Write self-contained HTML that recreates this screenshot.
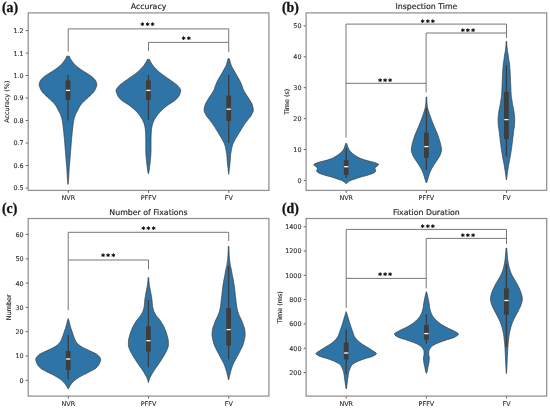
<!DOCTYPE html>
<html><head><meta charset="utf-8"><title>Violin plots</title>
<style>html,body{margin:0;padding:0;background:#fff}svg{display:block}text{font-family:"DejaVu Sans","Liberation Sans",sans-serif;fill:#2a2a2a}.lab{font-family:"Liberation Serif","DejaVu Serif",serif;font-weight:bold;font-size:13.8px;fill:#111;stroke:#111;stroke-width:0.3px}.tk{font-size:6.4px;stroke:#2a2a2a;stroke-width:0.1px}.tt{font-size:7.8px;stroke:#2a2a2a;stroke-width:0.18px}.st{font-size:7.4px;letter-spacing:1.4px;fill:#000;stroke:#000;stroke-width:0.32px}</style></head><body>
<svg width="550" height="409" viewBox="0 0 550 409">
<rect width="550" height="409" fill="#fff"/>
<g>
<path d="M69.3 56.2 L69.6 57.0 L69.9 57.7 L70.2 58.5 L70.7 59.2 L71.2 60.0 L71.7 60.7 L72.2 61.5 L72.8 62.2 L73.4 63.0 L74.0 63.7 L74.7 64.5 L75.5 65.2 L76.3 66.0 L77.2 66.7 L78.1 67.5 L79.1 68.2 L80.1 69.0 L81.2 69.7 L82.4 70.5 L83.6 71.2 L84.7 72.0 L85.9 72.7 L87.1 73.5 L88.4 74.2 L89.5 75.0 L90.6 75.7 L91.6 76.5 L92.5 77.2 L93.4 78.0 L94.2 78.7 L94.8 79.5 L95.3 80.2 L95.7 81.0 L96.1 81.7 L96.4 82.5 L96.6 83.2 L96.8 84.0 L96.8 84.7 L96.7 85.5 L96.5 86.2 L96.3 87.0 L96.0 87.7 L95.7 88.5 L95.4 89.2 L95.0 90.0 L94.6 90.7 L94.1 91.5 L93.5 92.2 L92.8 93.0 L92.1 93.7 L91.3 94.5 L90.6 95.2 L89.8 96.0 L89.0 96.7 L88.2 97.5 L87.4 98.2 L86.5 99.0 L85.7 99.7 L84.9 100.5 L84.2 101.2 L83.4 102.0 L82.6 102.7 L81.9 103.5 L81.2 104.2 L80.6 105.0 L80.1 105.7 L79.7 106.5 L79.2 107.2 L78.9 108.0 L78.5 108.7 L78.1 109.5 L77.7 110.2 L77.3 111.0 L76.9 111.7 L76.5 112.5 L76.1 113.2 L75.7 114.0 L75.4 114.7 L75.1 115.5 L74.9 116.2 L74.6 117.0 L74.4 117.7 L74.2 118.5 L74.0 119.2 L73.8 120.0 L73.7 120.7 L73.5 121.5 L73.4 122.2 L73.3 123.0 L73.2 123.7 L73.1 124.5 L73.0 125.2 L72.9 126.0 L72.9 126.7 L72.8 127.5 L72.7 128.2 L72.6 128.9 L72.5 129.7 L72.4 130.4 L72.4 131.2 L72.3 131.9 L72.2 132.7 L72.1 133.4 L72.1 134.2 L72.0 134.9 L71.9 135.7 L71.8 136.4 L71.8 137.2 L71.7 137.9 L71.6 138.7 L71.5 139.4 L71.5 140.2 L71.4 140.9 L71.4 141.7 L71.3 142.4 L71.2 143.2 L71.2 143.9 L71.1 144.7 L71.1 145.4 L71.0 146.2 L70.9 146.9 L70.9 147.7 L70.8 148.4 L70.8 149.2 L70.7 149.9 L70.6 150.7 L70.6 151.4 L70.5 152.2 L70.5 152.9 L70.4 153.7 L70.3 154.4 L70.3 155.2 L70.2 155.9 L70.2 156.7 L70.1 157.4 L70.0 158.2 L70.0 158.9 L69.9 159.7 L69.9 160.4 L69.8 161.2 L69.7 161.9 L69.7 162.7 L69.6 163.4 L69.6 164.2 L69.5 164.9 L69.4 165.7 L69.4 166.4 L69.3 167.2 L69.2 167.9 L69.2 168.7 L69.1 169.4 L69.1 170.2 L69.0 170.9 L69.0 171.7 L69.0 172.4 L68.9 173.2 L68.9 173.9 L68.8 174.7 L68.8 175.4 L68.8 176.2 L68.7 176.9 L68.7 177.7 L68.6 178.4 L68.6 179.2 L68.5 179.9 L68.4 180.7 L68.4 181.4 L68.3 182.2 L68.2 182.9 L68.1 183.7 L68.0 184.4 L68.0 184.4 L67.9 183.7 L67.8 182.9 L67.7 182.2 L67.6 181.4 L67.6 180.7 L67.5 179.9 L67.4 179.2 L67.4 178.4 L67.3 177.7 L67.3 176.9 L67.2 176.2 L67.2 175.4 L67.2 174.7 L67.1 173.9 L67.1 173.2 L67.0 172.4 L67.0 171.7 L67.0 170.9 L66.9 170.2 L66.9 169.4 L66.8 168.7 L66.8 167.9 L66.7 167.2 L66.6 166.4 L66.6 165.7 L66.5 164.9 L66.4 164.2 L66.4 163.4 L66.3 162.7 L66.3 161.9 L66.2 161.2 L66.1 160.4 L66.1 159.7 L66.0 158.9 L66.0 158.2 L65.9 157.4 L65.8 156.7 L65.8 155.9 L65.7 155.2 L65.7 154.4 L65.6 153.7 L65.5 152.9 L65.5 152.2 L65.4 151.4 L65.4 150.7 L65.3 149.9 L65.2 149.2 L65.2 148.4 L65.1 147.7 L65.1 146.9 L65.0 146.2 L64.9 145.4 L64.9 144.7 L64.8 143.9 L64.8 143.2 L64.7 142.4 L64.6 141.7 L64.6 140.9 L64.5 140.2 L64.5 139.4 L64.4 138.7 L64.3 137.9 L64.2 137.2 L64.2 136.4 L64.1 135.7 L64.0 134.9 L63.9 134.2 L63.9 133.4 L63.8 132.7 L63.7 131.9 L63.6 131.2 L63.6 130.4 L63.5 129.7 L63.4 128.9 L63.3 128.2 L63.2 127.5 L63.1 126.7 L63.1 126.0 L63.0 125.2 L62.9 124.5 L62.8 123.7 L62.7 123.0 L62.6 122.2 L62.5 121.5 L62.3 120.7 L62.2 120.0 L62.0 119.2 L61.8 118.5 L61.6 117.7 L61.4 117.0 L61.1 116.2 L60.9 115.5 L60.6 114.7 L60.3 114.0 L59.9 113.2 L59.5 112.5 L59.1 111.7 L58.7 111.0 L58.3 110.2 L57.9 109.5 L57.5 108.7 L57.1 108.0 L56.8 107.2 L56.3 106.5 L55.9 105.7 L55.4 105.0 L54.8 104.2 L54.1 103.5 L53.4 102.7 L52.6 102.0 L51.8 101.2 L51.1 100.5 L50.3 99.7 L49.5 99.0 L48.6 98.2 L47.8 97.5 L47.0 96.7 L46.2 96.0 L45.4 95.2 L44.7 94.5 L43.9 93.7 L43.2 93.0 L42.5 92.2 L41.9 91.5 L41.4 90.7 L41.0 90.0 L40.6 89.2 L40.3 88.5 L40.0 87.7 L39.7 87.0 L39.5 86.2 L39.3 85.5 L39.2 84.7 L39.2 84.0 L39.4 83.2 L39.6 82.5 L39.9 81.7 L40.3 81.0 L40.7 80.2 L41.2 79.5 L41.8 78.7 L42.6 78.0 L43.5 77.2 L44.4 76.5 L45.4 75.7 L46.5 75.0 L47.6 74.2 L48.9 73.5 L50.1 72.7 L51.3 72.0 L52.4 71.2 L53.6 70.5 L54.8 69.7 L55.9 69.0 L56.9 68.2 L57.9 67.5 L58.8 66.7 L59.7 66.0 L60.5 65.2 L61.3 64.5 L62.0 63.7 L62.6 63.0 L63.2 62.2 L63.8 61.5 L64.3 60.7 L64.8 60.0 L65.3 59.2 L65.8 58.5 L66.1 57.7 L66.4 57.0 L66.7 56.2Z" fill="#2f74a7" stroke="#3b3b3b" stroke-width="0.75" stroke-linejoin="round"/>
<line x1="68.0" y1="75.0" x2="68.0" y2="120.4" stroke="#3d3d3d" stroke-width="1.35"/>
<line x1="68.0" y1="80.4" x2="68.0" y2="100.0" stroke="#3d3d3d" stroke-width="4.8"/>
<line x1="65.9" y1="90.4" x2="70.1" y2="90.4" stroke="#fff" stroke-width="1.3"/>
<path d="M149.4 59.4 L149.7 60.1 L150.1 60.9 L150.5 61.6 L150.9 62.4 L151.4 63.1 L151.8 63.9 L152.4 64.7 L152.9 65.4 L153.5 66.2 L154.2 66.9 L154.9 67.7 L155.6 68.4 L156.3 69.2 L157.0 69.9 L157.8 70.7 L158.5 71.4 L159.4 72.2 L160.3 72.9 L161.3 73.7 L162.3 74.4 L163.4 75.2 L164.4 75.9 L165.5 76.7 L166.6 77.4 L167.6 78.2 L168.7 78.9 L169.7 79.7 L170.8 80.4 L171.9 81.2 L172.9 81.9 L173.9 82.7 L174.9 83.4 L175.9 84.2 L176.9 84.9 L177.7 85.7 L178.3 86.4 L179.0 87.2 L179.6 87.9 L180.1 88.7 L180.5 89.4 L180.7 90.2 L180.7 90.9 L180.6 91.7 L180.4 92.4 L180.1 93.2 L179.9 93.9 L179.5 94.7 L179.2 95.4 L178.8 96.2 L178.3 96.9 L177.7 97.7 L177.0 98.4 L176.3 99.2 L175.5 99.9 L174.6 100.7 L173.6 101.4 L172.4 102.2 L171.2 102.9 L169.9 103.7 L168.8 104.4 L167.7 105.2 L166.7 105.9 L165.7 106.7 L164.8 107.4 L163.9 108.2 L163.0 108.9 L162.2 109.7 L161.4 110.4 L160.7 111.2 L160.0 111.9 L159.3 112.7 L158.7 113.4 L158.0 114.2 L157.5 114.9 L156.9 115.7 L156.4 116.4 L155.9 117.2 L155.4 117.9 L154.9 118.7 L154.5 119.4 L154.1 120.2 L153.8 120.9 L153.5 121.7 L153.1 122.4 L152.9 123.2 L152.6 123.9 L152.4 124.7 L152.2 125.4 L152.0 126.2 L151.9 126.9 L151.7 127.7 L151.6 128.4 L151.5 129.2 L151.4 129.9 L151.4 130.7 L151.3 131.4 L151.3 132.2 L151.2 132.9 L151.2 133.7 L151.1 134.4 L151.1 135.2 L151.1 135.9 L151.1 136.7 L151.0 137.4 L151.0 138.2 L151.0 138.9 L151.0 139.7 L151.0 140.4 L151.0 141.2 L151.0 141.9 L151.0 142.7 L151.0 143.4 L151.0 144.2 L151.0 144.9 L151.0 145.7 L151.0 146.4 L151.0 147.2 L151.0 147.9 L151.0 148.7 L151.0 149.4 L151.0 150.2 L151.0 150.9 L151.0 151.7 L150.9 152.4 L150.9 153.2 L150.9 153.9 L150.8 154.7 L150.8 155.4 L150.7 156.2 L150.7 156.9 L150.6 157.7 L150.5 158.4 L150.5 159.2 L150.4 159.9 L150.3 160.7 L150.2 161.4 L150.2 162.2 L150.1 162.9 L150.0 163.7 L149.9 164.4 L149.8 165.2 L149.7 165.9 L149.6 166.7 L149.5 167.4 L149.4 168.2 L149.4 168.9 L149.3 169.7 L149.1 170.4 L149.0 171.2 L148.9 171.9 L148.7 172.7 L148.5 173.4 L148.4 174.0 L148.4 174.0 L148.3 173.4 L148.1 172.7 L147.9 171.9 L147.8 171.2 L147.7 170.4 L147.5 169.7 L147.4 168.9 L147.4 168.2 L147.3 167.4 L147.2 166.7 L147.1 165.9 L147.0 165.2 L146.9 164.4 L146.8 163.7 L146.7 162.9 L146.6 162.2 L146.6 161.4 L146.5 160.7 L146.4 159.9 L146.3 159.2 L146.3 158.4 L146.2 157.7 L146.1 156.9 L146.1 156.2 L146.0 155.4 L146.0 154.7 L145.9 153.9 L145.9 153.2 L145.9 152.4 L145.8 151.7 L145.8 150.9 L145.8 150.2 L145.8 149.4 L145.8 148.7 L145.8 147.9 L145.8 147.2 L145.8 146.4 L145.8 145.7 L145.8 144.9 L145.8 144.2 L145.8 143.4 L145.8 142.7 L145.8 141.9 L145.8 141.2 L145.8 140.4 L145.8 139.7 L145.8 138.9 L145.8 138.2 L145.8 137.4 L145.7 136.7 L145.7 135.9 L145.7 135.2 L145.7 134.4 L145.6 133.7 L145.6 132.9 L145.5 132.2 L145.5 131.4 L145.4 130.7 L145.4 129.9 L145.3 129.2 L145.2 128.4 L145.1 127.7 L144.9 126.9 L144.8 126.2 L144.6 125.4 L144.4 124.7 L144.2 123.9 L143.9 123.2 L143.7 122.4 L143.3 121.7 L143.0 120.9 L142.7 120.2 L142.3 119.4 L141.9 118.7 L141.4 117.9 L140.9 117.2 L140.4 116.4 L139.9 115.7 L139.3 114.9 L138.8 114.2 L138.1 113.4 L137.5 112.7 L136.8 111.9 L136.1 111.2 L135.4 110.4 L134.6 109.7 L133.8 108.9 L132.9 108.2 L132.0 107.4 L131.1 106.7 L130.1 105.9 L129.1 105.2 L128.0 104.4 L126.9 103.7 L125.6 102.9 L124.4 102.2 L123.2 101.4 L122.2 100.7 L121.3 99.9 L120.5 99.2 L119.8 98.4 L119.1 97.7 L118.5 96.9 L118.0 96.2 L117.6 95.4 L117.3 94.7 L116.9 93.9 L116.7 93.2 L116.4 92.4 L116.2 91.7 L116.1 90.9 L116.1 90.2 L116.3 89.4 L116.7 88.7 L117.2 87.9 L117.8 87.2 L118.5 86.4 L119.1 85.7 L119.9 84.9 L120.9 84.2 L121.9 83.4 L122.9 82.7 L123.9 81.9 L124.9 81.2 L126.0 80.4 L127.1 79.7 L128.1 78.9 L129.2 78.2 L130.2 77.4 L131.3 76.7 L132.4 75.9 L133.4 75.2 L134.5 74.4 L135.5 73.7 L136.5 72.9 L137.4 72.2 L138.3 71.4 L139.0 70.7 L139.8 69.9 L140.5 69.2 L141.2 68.4 L141.9 67.7 L142.6 66.9 L143.3 66.2 L143.9 65.4 L144.4 64.7 L145.0 63.9 L145.4 63.1 L145.9 62.4 L146.3 61.6 L146.7 60.9 L147.1 60.1 L147.4 59.4Z" fill="#2f74a7" stroke="#3b3b3b" stroke-width="0.75" stroke-linejoin="round"/>
<line x1="148.4" y1="75.0" x2="148.4" y2="120.0" stroke="#3d3d3d" stroke-width="1.35"/>
<line x1="148.4" y1="80.4" x2="148.4" y2="100.0" stroke="#3d3d3d" stroke-width="4.8"/>
<line x1="146.3" y1="90.4" x2="150.5" y2="90.4" stroke="#fff" stroke-width="1.3"/>
<path d="M229.2 58.6 L229.5 59.4 L229.7 60.1 L229.9 60.9 L230.1 61.6 L230.3 62.4 L230.5 63.1 L230.7 63.9 L231.0 64.6 L231.2 65.3 L231.5 66.1 L231.9 66.8 L232.3 67.6 L232.7 68.3 L233.2 69.1 L233.6 69.8 L234.0 70.6 L234.4 71.3 L234.9 72.1 L235.3 72.8 L235.7 73.6 L236.1 74.3 L236.6 75.1 L237.0 75.8 L237.4 76.6 L237.9 77.3 L238.3 78.1 L238.8 78.8 L239.2 79.6 L239.6 80.3 L240.0 81.1 L240.3 81.8 L240.7 82.6 L241.0 83.3 L241.3 84.1 L241.6 84.8 L241.9 85.6 L242.2 86.3 L242.4 87.1 L242.7 87.8 L242.9 88.6 L243.2 89.3 L243.5 90.1 L243.9 90.8 L244.3 91.6 L244.8 92.3 L245.3 93.1 L245.8 93.8 L246.2 94.6 L246.7 95.3 L247.2 96.1 L247.7 96.8 L248.2 97.6 L248.7 98.3 L249.2 99.1 L249.6 99.8 L250.1 100.6 L250.5 101.3 L250.9 102.1 L251.4 102.8 L251.8 103.6 L252.1 104.3 L252.3 105.1 L252.5 105.8 L252.8 106.6 L252.9 107.3 L253.1 108.1 L253.2 108.8 L253.3 109.6 L253.3 110.3 L253.2 111.1 L253.0 111.8 L252.7 112.6 L252.3 113.3 L251.9 114.1 L251.6 114.8 L251.2 115.6 L250.7 116.3 L250.1 117.1 L249.5 117.8 L248.8 118.6 L248.2 119.3 L247.6 120.1 L247.1 120.8 L246.5 121.6 L245.9 122.3 L245.4 123.1 L244.8 123.8 L244.3 124.6 L243.8 125.3 L243.3 126.1 L242.8 126.8 L242.3 127.6 L241.9 128.3 L241.4 129.1 L241.0 129.8 L240.5 130.6 L240.1 131.3 L239.6 132.1 L239.2 132.8 L238.7 133.6 L238.3 134.3 L237.8 135.1 L237.4 135.8 L236.9 136.6 L236.4 137.3 L236.0 138.1 L235.5 138.8 L235.1 139.6 L234.7 140.3 L234.3 141.1 L233.9 141.8 L233.6 142.6 L233.2 143.3 L232.9 144.1 L232.6 144.8 L232.4 145.6 L232.2 146.3 L232.0 147.1 L231.8 147.8 L231.7 148.6 L231.5 149.3 L231.4 150.1 L231.2 150.8 L231.1 151.6 L231.0 152.3 L230.9 153.1 L230.7 153.8 L230.6 154.6 L230.6 155.3 L230.5 156.1 L230.4 156.8 L230.4 157.6 L230.3 158.3 L230.3 159.1 L230.2 159.8 L230.2 160.6 L230.1 161.3 L230.0 162.1 L230.0 162.8 L229.9 163.6 L229.9 164.3 L229.8 165.1 L229.7 165.8 L229.6 166.6 L229.5 167.3 L229.4 168.1 L229.3 168.8 L229.2 169.6 L229.2 170.3 L229.1 171.1 L229.0 171.8 L228.9 172.6 L228.8 173.3 L228.7 174.1 L228.7 174.4 L228.7 174.4 L228.7 174.1 L228.6 173.3 L228.5 172.6 L228.4 171.8 L228.3 171.1 L228.2 170.3 L228.2 169.6 L228.1 168.8 L228.0 168.1 L227.9 167.3 L227.8 166.6 L227.7 165.8 L227.6 165.1 L227.5 164.3 L227.5 163.6 L227.4 162.8 L227.4 162.1 L227.3 161.3 L227.2 160.6 L227.2 159.8 L227.1 159.1 L227.1 158.3 L227.0 157.6 L227.0 156.8 L226.9 156.1 L226.8 155.3 L226.8 154.6 L226.7 153.8 L226.5 153.1 L226.4 152.3 L226.3 151.6 L226.2 150.8 L226.0 150.1 L225.9 149.3 L225.7 148.6 L225.6 147.8 L225.4 147.1 L225.2 146.3 L225.0 145.6 L224.8 144.8 L224.5 144.1 L224.2 143.3 L223.8 142.6 L223.5 141.8 L223.1 141.1 L222.7 140.3 L222.3 139.6 L221.9 138.8 L221.4 138.1 L221.0 137.3 L220.5 136.6 L220.0 135.8 L219.6 135.1 L219.1 134.3 L218.7 133.6 L218.2 132.8 L217.8 132.1 L217.3 131.3 L216.9 130.6 L216.4 129.8 L216.0 129.1 L215.5 128.3 L215.1 127.6 L214.6 126.8 L214.1 126.1 L213.6 125.3 L213.1 124.6 L212.6 123.8 L212.0 123.1 L211.5 122.3 L210.9 121.6 L210.3 120.8 L209.8 120.1 L209.2 119.3 L208.6 118.6 L207.9 117.8 L207.3 117.1 L206.7 116.3 L206.2 115.6 L205.8 114.8 L205.5 114.1 L205.1 113.3 L204.7 112.6 L204.4 111.8 L204.2 111.1 L204.1 110.3 L204.1 109.6 L204.2 108.8 L204.3 108.1 L204.5 107.3 L204.6 106.6 L204.9 105.8 L205.1 105.1 L205.3 104.3 L205.6 103.6 L206.0 102.8 L206.5 102.1 L206.9 101.3 L207.3 100.6 L207.8 99.8 L208.2 99.1 L208.7 98.3 L209.2 97.6 L209.7 96.8 L210.2 96.1 L210.7 95.3 L211.2 94.6 L211.6 93.8 L212.1 93.1 L212.6 92.3 L213.1 91.6 L213.5 90.8 L213.9 90.1 L214.2 89.3 L214.5 88.6 L214.7 87.8 L215.0 87.1 L215.2 86.3 L215.5 85.6 L215.8 84.8 L216.1 84.1 L216.4 83.3 L216.7 82.6 L217.1 81.8 L217.4 81.1 L217.8 80.3 L218.2 79.6 L218.6 78.8 L219.1 78.1 L219.5 77.3 L220.0 76.6 L220.4 75.8 L220.8 75.1 L221.3 74.3 L221.7 73.6 L222.1 72.8 L222.5 72.1 L223.0 71.3 L223.4 70.6 L223.8 69.8 L224.2 69.1 L224.7 68.3 L225.1 67.6 L225.5 66.8 L225.9 66.1 L226.2 65.3 L226.4 64.6 L226.7 63.9 L226.9 63.1 L227.1 62.4 L227.3 61.6 L227.5 60.9 L227.7 60.1 L227.9 59.4 L228.2 58.6Z" fill="#2f74a7" stroke="#3b3b3b" stroke-width="0.75" stroke-linejoin="round"/>
<line x1="228.7" y1="75.0" x2="228.7" y2="143.0" stroke="#3d3d3d" stroke-width="1.35"/>
<line x1="228.7" y1="95.6" x2="228.7" y2="121.0" stroke="#3d3d3d" stroke-width="4.8"/>
<line x1="226.6" y1="109.2" x2="230.8" y2="109.2" stroke="#fff" stroke-width="1.3"/>
<polyline points="68.2,51.5 68.2,28.9 228.7,28.9 228.7,52.0" fill="none" stroke="#707070" stroke-width="0.95"/>
<polyline points="148.5,51.0 148.5,42.4 228.7,42.4" fill="none" stroke="#707070" stroke-width="0.95"/>
<text class="st" x="148.2" y="28.2" text-anchor="middle">***</text>
<text class="st" x="186.9" y="42.3" text-anchor="middle">**</text>
<rect x="28.2" y="12.9" width="240.7" height="177.5" fill="none" stroke="#909090" stroke-width="1.25"/>
<line x1="25.8" y1="188.0" x2="27.8" y2="188.0" stroke="#4a4a4a" stroke-width="0.90"/>
<text class="tk" x="23.6" y="190.4" text-anchor="end">0.5</text>
<line x1="25.8" y1="165.5" x2="27.8" y2="165.5" stroke="#4a4a4a" stroke-width="0.90"/>
<text class="tk" x="23.6" y="167.9" text-anchor="end">0.6</text>
<line x1="25.8" y1="143.0" x2="27.8" y2="143.0" stroke="#4a4a4a" stroke-width="0.90"/>
<text class="tk" x="23.6" y="145.4" text-anchor="end">0.7</text>
<line x1="25.8" y1="120.5" x2="27.8" y2="120.5" stroke="#4a4a4a" stroke-width="0.90"/>
<text class="tk" x="23.6" y="122.9" text-anchor="end">0.8</text>
<line x1="25.8" y1="98.0" x2="27.8" y2="98.0" stroke="#4a4a4a" stroke-width="0.90"/>
<text class="tk" x="23.6" y="100.4" text-anchor="end">0.9</text>
<line x1="25.8" y1="75.5" x2="27.8" y2="75.5" stroke="#4a4a4a" stroke-width="0.90"/>
<text class="tk" x="23.6" y="78.0" text-anchor="end">1.0</text>
<line x1="25.8" y1="53.1" x2="27.8" y2="53.1" stroke="#4a4a4a" stroke-width="0.90"/>
<text class="tk" x="23.6" y="55.5" text-anchor="end">1.1</text>
<line x1="25.8" y1="30.6" x2="27.8" y2="30.6" stroke="#4a4a4a" stroke-width="0.90"/>
<text class="tk" x="23.6" y="33.0" text-anchor="end">1.2</text>
<line x1="68.3" y1="190.8" x2="68.3" y2="192.8" stroke="#4a4a4a" stroke-width="0.90"/>
<text class="tk" x="68.3" y="200.0" text-anchor="middle">NVR</text>
<line x1="148.5" y1="190.8" x2="148.5" y2="192.8" stroke="#4a4a4a" stroke-width="0.90"/>
<text class="tk" x="148.5" y="200.0" text-anchor="middle">PFFV</text>
<line x1="228.8" y1="190.8" x2="228.8" y2="192.8" stroke="#4a4a4a" stroke-width="0.90"/>
<text class="tk" x="228.8" y="200.0" text-anchor="middle">FV</text>
<text class="tt" x="148.5" y="9.1" text-anchor="middle">Accuracy</text>
<text class="tk" transform="translate(8.7,101.7) rotate(-90)" text-anchor="middle">Accuracy (%)</text>
<text class="lab" x="2.0" y="12.2">(a)</text>
</g>
<g>
<path d="M346.7 143.5 L346.9 144.2 L347.2 145.0 L347.4 145.8 L347.7 146.5 L347.9 147.2 L348.2 148.0 L348.6 148.8 L348.9 149.5 L349.4 150.2 L350.0 151.0 L350.7 151.8 L351.4 152.5 L352.2 153.2 L353.2 154.0 L354.2 154.8 L355.2 155.5 L356.4 156.2 L357.7 157.0 L359.0 157.8 L360.6 158.5 L362.5 159.2 L364.9 160.0 L367.7 160.8 L370.6 161.5 L373.3 162.2 L375.9 163.0 L377.7 163.8 L378.6 164.5 L378.2 165.2 L377.3 166.0 L376.2 166.8 L375.3 167.5 L374.9 168.2 L375.1 169.0 L375.4 169.8 L375.7 170.5 L375.7 171.2 L375.1 172.0 L374.0 172.8 L372.6 173.5 L370.5 174.2 L368.1 175.0 L365.4 175.8 L362.5 176.5 L360.0 177.2 L357.7 178.0 L355.5 178.8 L353.3 179.5 L351.1 180.2 L349.4 181.0 L348.3 181.8 L347.4 182.5 L346.6 183.2 L346.2 183.8 L346.2 183.8 L345.8 183.2 L345.0 182.5 L344.1 181.8 L343.0 181.0 L341.3 180.2 L339.1 179.5 L336.9 178.8 L334.7 178.0 L332.4 177.2 L329.9 176.5 L327.0 175.8 L324.3 175.0 L321.9 174.2 L319.8 173.5 L318.4 172.8 L317.3 172.0 L316.7 171.2 L316.7 170.5 L317.0 169.8 L317.3 169.0 L317.5 168.2 L317.1 167.5 L316.2 166.8 L315.1 166.0 L314.2 165.2 L313.8 164.5 L314.7 163.8 L316.5 163.0 L319.1 162.2 L321.8 161.5 L324.7 160.8 L327.5 160.0 L329.9 159.2 L331.8 158.5 L333.4 157.8 L334.7 157.0 L336.0 156.2 L337.2 155.5 L338.2 154.8 L339.2 154.0 L340.2 153.2 L341.0 152.5 L341.7 151.8 L342.4 151.0 L343.0 150.2 L343.5 149.5 L343.8 148.8 L344.2 148.0 L344.5 147.2 L344.7 146.5 L345.0 145.8 L345.2 145.0 L345.5 144.2 L345.7 143.5Z" fill="#2f74a7" stroke="#3b3b3b" stroke-width="0.75" stroke-linejoin="round"/>
<line x1="346.2" y1="148.0" x2="346.2" y2="178.1" stroke="#3d3d3d" stroke-width="1.35"/>
<line x1="346.2" y1="160.2" x2="346.2" y2="174.8" stroke="#3d3d3d" stroke-width="4.8"/>
<line x1="344.1" y1="166.7" x2="348.3" y2="166.7" stroke="#fff" stroke-width="1.3"/>
<path d="M426.7 97.0 L426.7 97.8 L426.7 98.5 L426.8 99.2 L426.8 100.0 L426.8 100.8 L426.9 101.5 L426.9 102.2 L427.0 103.0 L427.0 103.8 L427.1 104.5 L427.2 105.2 L427.3 106.0 L427.4 106.8 L427.6 107.5 L427.7 108.2 L427.9 109.0 L428.1 109.8 L428.3 110.5 L428.6 111.2 L428.8 112.0 L429.0 112.8 L429.3 113.5 L429.5 114.2 L429.8 115.0 L430.1 115.8 L430.3 116.5 L430.6 117.2 L430.9 118.0 L431.1 118.8 L431.4 119.5 L431.7 120.2 L432.0 121.0 L432.3 121.8 L432.6 122.5 L432.9 123.2 L433.2 124.0 L433.5 124.8 L433.8 125.5 L434.1 126.2 L434.4 127.0 L434.7 127.8 L435.1 128.5 L435.4 129.2 L435.7 130.0 L436.0 130.8 L436.3 131.5 L436.7 132.2 L437.0 133.0 L437.3 133.8 L437.6 134.5 L437.9 135.2 L438.2 136.0 L438.4 136.8 L438.6 137.5 L438.9 138.2 L439.1 139.0 L439.3 139.8 L439.6 140.5 L439.8 141.2 L440.0 142.0 L440.2 142.8 L440.5 143.5 L440.6 144.2 L440.8 145.0 L440.9 145.8 L441.1 146.5 L441.2 147.2 L441.3 148.0 L441.4 148.8 L441.5 149.5 L441.5 150.2 L441.4 151.0 L441.3 151.8 L441.0 152.5 L440.8 153.2 L440.5 154.0 L440.2 154.8 L439.9 155.5 L439.5 156.2 L439.1 157.0 L438.6 157.8 L438.2 158.5 L437.7 159.2 L437.2 160.0 L436.7 160.8 L436.2 161.5 L435.7 162.2 L435.2 163.0 L434.7 163.8 L434.2 164.5 L433.7 165.2 L433.3 166.0 L432.8 166.8 L432.4 167.5 L431.9 168.2 L431.5 169.0 L431.1 169.8 L430.8 170.5 L430.4 171.2 L430.1 172.0 L429.8 172.8 L429.5 173.5 L429.3 174.2 L429.0 175.0 L428.8 175.8 L428.5 176.5 L428.3 177.2 L428.1 178.0 L427.9 178.8 L427.7 179.5 L427.4 180.2 L427.2 181.0 L426.9 181.8 L426.6 182.5 L426.4 183.0 L426.4 183.0 L426.2 182.5 L425.9 181.8 L425.6 181.0 L425.4 180.2 L425.1 179.5 L424.9 178.8 L424.7 178.0 L424.5 177.2 L424.3 176.5 L424.0 175.8 L423.8 175.0 L423.5 174.2 L423.3 173.5 L423.0 172.8 L422.7 172.0 L422.4 171.2 L422.0 170.5 L421.7 169.8 L421.3 169.0 L420.9 168.2 L420.4 167.5 L420.0 166.8 L419.5 166.0 L419.1 165.2 L418.6 164.5 L418.1 163.8 L417.6 163.0 L417.1 162.2 L416.6 161.5 L416.1 160.8 L415.6 160.0 L415.1 159.2 L414.6 158.5 L414.2 157.8 L413.7 157.0 L413.3 156.2 L412.9 155.5 L412.6 154.8 L412.3 154.0 L412.0 153.2 L411.8 152.5 L411.5 151.8 L411.4 151.0 L411.3 150.2 L411.3 149.5 L411.4 148.8 L411.5 148.0 L411.6 147.2 L411.7 146.5 L411.9 145.8 L412.0 145.0 L412.2 144.2 L412.3 143.5 L412.6 142.8 L412.8 142.0 L413.0 141.2 L413.2 140.5 L413.5 139.8 L413.7 139.0 L413.9 138.2 L414.2 137.5 L414.4 136.8 L414.6 136.0 L414.9 135.2 L415.2 134.5 L415.5 133.8 L415.8 133.0 L416.1 132.2 L416.5 131.5 L416.8 130.8 L417.1 130.0 L417.4 129.2 L417.7 128.5 L418.1 127.8 L418.4 127.0 L418.7 126.2 L419.0 125.5 L419.3 124.8 L419.6 124.0 L419.9 123.2 L420.2 122.5 L420.5 121.8 L420.8 121.0 L421.1 120.2 L421.4 119.5 L421.7 118.8 L421.9 118.0 L422.2 117.2 L422.5 116.5 L422.7 115.8 L423.0 115.0 L423.3 114.2 L423.5 113.5 L423.8 112.8 L424.0 112.0 L424.2 111.2 L424.5 110.5 L424.7 109.8 L424.9 109.0 L425.1 108.2 L425.2 107.5 L425.4 106.8 L425.5 106.0 L425.6 105.2 L425.7 104.5 L425.8 103.8 L425.8 103.0 L425.9 102.2 L425.9 101.5 L426.0 100.8 L426.0 100.0 L426.0 99.2 L426.1 98.5 L426.1 97.8 L426.1 97.0Z" fill="#2f74a7" stroke="#3b3b3b" stroke-width="0.75" stroke-linejoin="round"/>
<line x1="426.4" y1="108.0" x2="426.4" y2="170.0" stroke="#3d3d3d" stroke-width="1.35"/>
<line x1="426.4" y1="132.6" x2="426.4" y2="157.8" stroke="#3d3d3d" stroke-width="4.8"/>
<line x1="424.3" y1="146.6" x2="428.5" y2="146.6" stroke="#fff" stroke-width="1.3"/>
<path d="M506.7 41.4 L506.7 42.1 L506.7 42.9 L506.8 43.6 L506.8 44.4 L506.8 45.1 L506.9 45.9 L507.0 46.6 L507.0 47.4 L507.1 48.1 L507.2 48.9 L507.3 49.6 L507.3 50.4 L507.5 51.1 L507.6 51.9 L507.7 52.6 L507.9 53.4 L508.1 54.1 L508.2 54.9 L508.3 55.6 L508.4 56.4 L508.5 57.1 L508.6 57.9 L508.7 58.6 L508.8 59.4 L508.9 60.1 L509.0 60.9 L509.1 61.6 L509.3 62.4 L509.4 63.1 L509.5 63.9 L509.6 64.7 L509.6 65.4 L509.7 66.2 L509.8 66.9 L509.8 67.7 L509.9 68.4 L509.9 69.2 L510.0 69.9 L510.1 70.7 L510.1 71.4 L510.1 72.2 L510.2 72.9 L510.2 73.7 L510.3 74.4 L510.3 75.2 L510.3 75.9 L510.4 76.7 L510.4 77.4 L510.4 78.2 L510.5 78.9 L510.5 79.7 L510.5 80.4 L510.5 81.2 L510.6 81.9 L510.6 82.7 L510.6 83.4 L510.7 84.2 L510.7 84.9 L510.7 85.7 L510.8 86.4 L510.8 87.2 L510.8 87.9 L510.9 88.7 L510.9 89.4 L510.9 90.2 L510.9 90.9 L511.0 91.7 L511.0 92.4 L511.1 93.2 L511.1 93.9 L511.2 94.7 L511.2 95.4 L511.3 96.2 L511.4 96.9 L511.5 97.7 L511.6 98.4 L511.8 99.2 L511.9 99.9 L512.0 100.7 L512.1 101.4 L512.2 102.2 L512.3 102.9 L512.5 103.7 L512.6 104.4 L512.7 105.2 L512.9 105.9 L513.0 106.7 L513.2 107.4 L513.3 108.2 L513.5 108.9 L513.6 109.7 L513.8 110.4 L513.9 111.2 L514.0 111.9 L514.1 112.7 L514.2 113.4 L514.3 114.2 L514.4 114.9 L514.5 115.7 L514.5 116.4 L514.6 117.2 L514.6 117.9 L514.7 118.7 L514.7 119.4 L514.7 120.2 L514.7 120.9 L514.7 121.7 L514.6 122.4 L514.6 123.2 L514.6 123.9 L514.5 124.7 L514.5 125.4 L514.4 126.2 L514.3 126.9 L514.2 127.7 L514.0 128.4 L513.9 129.2 L513.8 129.9 L513.7 130.7 L513.6 131.4 L513.5 132.2 L513.4 132.9 L513.4 133.7 L513.3 134.4 L513.2 135.2 L513.1 135.9 L513.0 136.7 L512.9 137.4 L512.8 138.2 L512.7 138.9 L512.6 139.7 L512.6 140.4 L512.5 141.2 L512.4 141.9 L512.3 142.7 L512.2 143.4 L512.1 144.2 L512.0 144.9 L511.9 145.7 L511.8 146.4 L511.7 147.2 L511.6 147.9 L511.5 148.7 L511.4 149.4 L511.3 150.2 L511.2 150.9 L511.0 151.7 L510.9 152.4 L510.8 153.2 L510.7 153.9 L510.6 154.7 L510.4 155.4 L510.3 156.2 L510.2 156.9 L510.0 157.7 L509.9 158.4 L509.8 159.2 L509.6 159.9 L509.5 160.7 L509.3 161.4 L509.2 162.2 L509.0 162.9 L508.9 163.7 L508.7 164.4 L508.6 165.2 L508.4 165.9 L508.3 166.7 L508.2 167.4 L508.1 168.2 L508.0 168.9 L507.9 169.7 L507.7 170.4 L507.6 171.2 L507.5 171.9 L507.4 172.7 L507.3 173.4 L507.2 174.2 L507.1 174.9 L507.0 175.7 L506.9 176.4 L506.8 177.2 L506.7 177.9 L506.6 178.7 L506.5 179.4 L506.4 180.0 L506.4 180.0 L506.3 179.4 L506.2 178.7 L506.1 177.9 L506.0 177.2 L505.9 176.4 L505.8 175.7 L505.7 174.9 L505.6 174.2 L505.5 173.4 L505.4 172.7 L505.3 171.9 L505.2 171.2 L505.1 170.4 L504.9 169.7 L504.8 168.9 L504.7 168.2 L504.6 167.4 L504.5 166.7 L504.4 165.9 L504.2 165.2 L504.1 164.4 L503.9 163.7 L503.8 162.9 L503.6 162.2 L503.5 161.4 L503.3 160.7 L503.2 159.9 L503.0 159.2 L502.9 158.4 L502.8 157.7 L502.6 156.9 L502.5 156.2 L502.4 155.4 L502.2 154.7 L502.1 153.9 L502.0 153.2 L501.9 152.4 L501.8 151.7 L501.6 150.9 L501.5 150.2 L501.4 149.4 L501.3 148.7 L501.2 147.9 L501.1 147.2 L501.0 146.4 L500.9 145.7 L500.8 144.9 L500.7 144.2 L500.6 143.4 L500.5 142.7 L500.4 141.9 L500.3 141.2 L500.2 140.4 L500.2 139.7 L500.1 138.9 L500.0 138.2 L499.9 137.4 L499.8 136.7 L499.7 135.9 L499.6 135.2 L499.5 134.4 L499.4 133.7 L499.4 132.9 L499.3 132.2 L499.2 131.4 L499.1 130.7 L499.0 129.9 L498.9 129.2 L498.8 128.4 L498.6 127.7 L498.5 126.9 L498.4 126.2 L498.3 125.4 L498.3 124.7 L498.2 123.9 L498.2 123.2 L498.2 122.4 L498.1 121.7 L498.1 120.9 L498.1 120.2 L498.1 119.4 L498.1 118.7 L498.2 117.9 L498.2 117.2 L498.3 116.4 L498.3 115.7 L498.4 114.9 L498.5 114.2 L498.6 113.4 L498.7 112.7 L498.8 111.9 L498.9 111.2 L499.0 110.4 L499.2 109.7 L499.3 108.9 L499.5 108.2 L499.6 107.4 L499.8 106.7 L499.9 105.9 L500.1 105.2 L500.2 104.4 L500.3 103.7 L500.5 102.9 L500.6 102.2 L500.7 101.4 L500.8 100.7 L500.9 99.9 L501.0 99.2 L501.2 98.4 L501.3 97.7 L501.4 96.9 L501.5 96.2 L501.6 95.4 L501.6 94.7 L501.7 93.9 L501.7 93.2 L501.8 92.4 L501.8 91.7 L501.9 90.9 L501.9 90.2 L501.9 89.4 L501.9 88.7 L502.0 87.9 L502.0 87.2 L502.0 86.4 L502.1 85.7 L502.1 84.9 L502.1 84.2 L502.2 83.4 L502.2 82.7 L502.2 81.9 L502.3 81.2 L502.3 80.4 L502.3 79.7 L502.3 78.9 L502.4 78.2 L502.4 77.4 L502.4 76.7 L502.5 75.9 L502.5 75.2 L502.5 74.4 L502.6 73.7 L502.6 72.9 L502.7 72.2 L502.7 71.4 L502.7 70.7 L502.8 69.9 L502.9 69.2 L502.9 68.4 L503.0 67.7 L503.0 66.9 L503.1 66.2 L503.2 65.4 L503.2 64.7 L503.3 63.9 L503.4 63.1 L503.5 62.4 L503.7 61.6 L503.8 60.9 L503.9 60.1 L504.0 59.4 L504.1 58.6 L504.2 57.9 L504.3 57.1 L504.4 56.4 L504.5 55.6 L504.6 54.9 L504.7 54.1 L504.9 53.4 L505.1 52.6 L505.2 51.9 L505.3 51.1 L505.5 50.4 L505.5 49.6 L505.6 48.9 L505.7 48.1 L505.8 47.4 L505.8 46.6 L505.9 45.9 L506.0 45.1 L506.0 44.4 L506.0 43.6 L506.1 42.9 L506.1 42.1 L506.1 41.4Z" fill="#2f74a7" stroke="#3b3b3b" stroke-width="0.75" stroke-linejoin="round"/>
<line x1="506.4" y1="65.0" x2="506.4" y2="156.4" stroke="#3d3d3d" stroke-width="1.35"/>
<line x1="506.4" y1="92.0" x2="506.4" y2="139.0" stroke="#3d3d3d" stroke-width="4.8"/>
<line x1="504.3" y1="119.6" x2="508.5" y2="119.6" stroke="#fff" stroke-width="1.3"/>
<polyline points="346.0,137.6 346.0,24.1 506.5,24.1 506.5,38.0" fill="none" stroke="#707070" stroke-width="0.95"/>
<polyline points="426.1,92.4 426.1,33.0 506.5,33.0" fill="none" stroke="#707070" stroke-width="0.95"/>
<polyline points="346.0,83.3 426.1,83.3" fill="none" stroke="#707070" stroke-width="0.95"/>
<text class="st" x="428.5" y="24.5" text-anchor="middle">***</text>
<text class="st" x="468.6" y="33.7" text-anchor="middle">***</text>
<text class="st" x="385.8" y="83.7" text-anchor="middle">***</text>
<rect x="306.1" y="12.9" width="240.6" height="177.5" fill="none" stroke="#909090" stroke-width="1.25"/>
<line x1="303.7" y1="180.4" x2="305.7" y2="180.4" stroke="#4a4a4a" stroke-width="0.90"/>
<text class="tk" x="301.5" y="182.8" text-anchor="end">0</text>
<line x1="303.7" y1="149.5" x2="305.7" y2="149.5" stroke="#4a4a4a" stroke-width="0.90"/>
<text class="tk" x="301.5" y="151.9" text-anchor="end">10</text>
<line x1="303.7" y1="118.6" x2="305.7" y2="118.6" stroke="#4a4a4a" stroke-width="0.90"/>
<text class="tk" x="301.5" y="121.0" text-anchor="end">20</text>
<line x1="303.7" y1="87.7" x2="305.7" y2="87.7" stroke="#4a4a4a" stroke-width="0.90"/>
<text class="tk" x="301.5" y="90.1" text-anchor="end">30</text>
<line x1="303.7" y1="56.8" x2="305.7" y2="56.8" stroke="#4a4a4a" stroke-width="0.90"/>
<text class="tk" x="301.5" y="59.2" text-anchor="end">40</text>
<line x1="303.7" y1="25.9" x2="305.7" y2="25.9" stroke="#4a4a4a" stroke-width="0.90"/>
<text class="tk" x="301.5" y="28.3" text-anchor="end">50</text>
<line x1="346.2" y1="190.8" x2="346.2" y2="192.8" stroke="#4a4a4a" stroke-width="0.90"/>
<text class="tk" x="346.2" y="200.0" text-anchor="middle">NVR</text>
<line x1="426.4" y1="190.8" x2="426.4" y2="192.8" stroke="#4a4a4a" stroke-width="0.90"/>
<text class="tk" x="426.4" y="200.0" text-anchor="middle">PFFV</text>
<line x1="506.6" y1="190.8" x2="506.6" y2="192.8" stroke="#4a4a4a" stroke-width="0.90"/>
<text class="tk" x="506.6" y="200.0" text-anchor="middle">FV</text>
<text class="tt" x="426.4" y="9.1" text-anchor="middle">Inspection Time</text>
<text class="tk" transform="translate(289.0,101.7) rotate(-90)" text-anchor="middle">Time (s)</text>
<text class="lab" x="282.0" y="12.2">(b)</text>
</g>
<g>
<path d="M68.2 318.6 L68.5 319.4 L68.7 320.1 L69.0 320.9 L69.2 321.6 L69.3 322.4 L69.5 323.1 L69.7 323.9 L69.9 324.6 L70.1 325.4 L70.3 326.1 L70.5 326.9 L70.7 327.6 L70.9 328.4 L71.2 329.1 L71.5 329.9 L71.8 330.6 L72.0 331.4 L72.3 332.1 L72.5 332.9 L72.7 333.6 L73.0 334.4 L73.2 335.1 L73.5 335.9 L73.8 336.6 L74.0 337.4 L74.3 338.1 L74.6 338.9 L75.0 339.6 L75.3 340.4 L75.7 341.1 L76.2 341.9 L76.7 342.6 L77.3 343.4 L78.0 344.1 L78.9 344.9 L79.9 345.6 L81.0 346.4 L82.2 347.1 L83.5 347.9 L85.0 348.6 L86.7 349.4 L88.3 350.1 L89.9 350.9 L91.4 351.6 L93.1 352.4 L94.7 353.1 L96.2 353.9 L97.3 354.6 L98.1 355.4 L98.8 356.1 L99.5 356.9 L100.0 357.6 L100.4 358.4 L100.6 359.1 L100.6 359.9 L100.5 360.6 L100.3 361.4 L100.0 362.1 L99.7 362.9 L99.4 363.6 L99.0 364.4 L98.6 365.1 L98.0 365.9 L97.4 366.6 L96.7 367.4 L95.9 368.1 L94.9 368.9 L93.6 369.6 L92.2 370.4 L90.7 371.1 L89.3 371.9 L87.9 372.6 L86.4 373.4 L84.8 374.1 L83.3 374.9 L81.9 375.6 L80.6 376.4 L79.3 377.1 L78.1 377.9 L76.9 378.6 L75.8 379.4 L74.9 380.1 L74.0 380.9 L73.3 381.6 L72.6 382.4 L71.9 383.1 L71.3 383.9 L70.8 384.6 L70.3 385.4 L69.8 386.1 L69.4 386.9 L69.0 387.6 L68.5 388.4 L68.2 389.0 L68.2 389.0 L67.9 388.4 L67.4 387.6 L67.0 386.9 L66.6 386.1 L66.1 385.4 L65.6 384.6 L65.1 383.9 L64.5 383.1 L63.8 382.4 L63.1 381.6 L62.4 380.9 L61.5 380.1 L60.6 379.4 L59.5 378.6 L58.3 377.9 L57.1 377.1 L55.8 376.4 L54.5 375.6 L53.1 374.9 L51.6 374.1 L50.0 373.4 L48.5 372.6 L47.1 371.9 L45.7 371.1 L44.2 370.4 L42.8 369.6 L41.5 368.9 L40.5 368.1 L39.7 367.4 L39.0 366.6 L38.4 365.9 L37.8 365.1 L37.4 364.4 L37.0 363.6 L36.7 362.9 L36.4 362.1 L36.1 361.4 L35.9 360.6 L35.8 359.9 L35.8 359.1 L36.0 358.4 L36.4 357.6 L36.9 356.9 L37.6 356.1 L38.3 355.4 L39.1 354.6 L40.2 353.9 L41.7 353.1 L43.3 352.4 L45.0 351.6 L46.5 350.9 L48.1 350.1 L49.7 349.4 L51.4 348.6 L52.9 347.9 L54.2 347.1 L55.4 346.4 L56.5 345.6 L57.5 344.9 L58.4 344.1 L59.1 343.4 L59.7 342.6 L60.2 341.9 L60.7 341.1 L61.1 340.4 L61.4 339.6 L61.8 338.9 L62.1 338.1 L62.4 337.4 L62.6 336.6 L62.9 335.9 L63.2 335.1 L63.4 334.4 L63.7 333.6 L63.9 332.9 L64.1 332.1 L64.4 331.4 L64.6 330.6 L64.9 329.9 L65.2 329.1 L65.5 328.4 L65.7 327.6 L65.9 326.9 L66.1 326.1 L66.3 325.4 L66.5 324.6 L66.7 323.9 L66.9 323.1 L67.1 322.4 L67.2 321.6 L67.4 320.9 L67.7 320.1 L67.9 319.4 L68.2 318.6Z" fill="#2f74a7" stroke="#3b3b3b" stroke-width="0.75" stroke-linejoin="round"/>
<line x1="68.2" y1="335.0" x2="68.2" y2="379.4" stroke="#3d3d3d" stroke-width="1.35"/>
<line x1="68.2" y1="351.0" x2="68.2" y2="370.0" stroke="#3d3d3d" stroke-width="4.8"/>
<line x1="66.1" y1="359.0" x2="70.3" y2="359.0" stroke="#fff" stroke-width="1.3"/>
<path d="M148.7 277.6 L148.7 278.4 L148.8 279.1 L148.8 279.9 L148.9 280.6 L148.9 281.4 L149.0 282.1 L149.1 282.9 L149.2 283.6 L149.2 284.4 L149.3 285.1 L149.5 285.9 L149.6 286.6 L149.8 287.4 L149.9 288.1 L150.1 288.9 L150.2 289.6 L150.4 290.4 L150.5 291.1 L150.6 291.9 L150.8 292.6 L150.9 293.4 L151.0 294.1 L151.2 294.9 L151.3 295.6 L151.4 296.4 L151.6 297.1 L151.7 297.9 L151.8 298.6 L151.9 299.4 L152.0 300.1 L152.1 300.9 L152.1 301.6 L152.2 302.4 L152.2 303.1 L152.3 303.9 L152.4 304.6 L152.4 305.4 L152.5 306.1 L152.7 306.9 L152.8 307.6 L153.0 308.4 L153.2 309.1 L153.4 309.9 L153.6 310.6 L153.9 311.4 L154.2 312.1 L154.6 312.9 L155.0 313.6 L155.4 314.4 L155.9 315.1 L156.4 315.9 L157.0 316.6 L157.6 317.4 L158.3 318.1 L158.9 318.9 L159.5 319.6 L160.0 320.4 L160.6 321.1 L161.1 321.9 L161.6 322.6 L162.0 323.4 L162.5 324.1 L162.9 324.9 L163.3 325.6 L163.7 326.4 L164.1 327.1 L164.4 327.9 L164.7 328.6 L165.0 329.4 L165.3 330.1 L165.6 330.9 L165.9 331.6 L166.2 332.4 L166.4 333.1 L166.7 333.9 L166.9 334.6 L167.1 335.4 L167.3 336.1 L167.5 336.9 L167.7 337.6 L167.9 338.4 L168.1 339.1 L168.2 339.9 L168.3 340.6 L168.3 341.4 L168.3 342.1 L168.4 342.9 L168.4 343.6 L168.4 344.4 L168.4 345.1 L168.3 345.9 L168.2 346.6 L167.9 347.4 L167.7 348.1 L167.4 348.9 L167.1 349.6 L166.8 350.4 L166.4 351.1 L166.1 351.9 L165.7 352.6 L165.2 353.4 L164.8 354.1 L164.4 354.9 L164.0 355.6 L163.5 356.4 L163.1 357.1 L162.6 357.9 L162.2 358.6 L161.7 359.4 L161.2 360.1 L160.7 360.9 L160.2 361.6 L159.7 362.4 L159.2 363.1 L158.7 363.9 L158.2 364.6 L157.7 365.4 L157.1 366.1 L156.6 366.9 L156.1 367.6 L155.5 368.4 L155.0 369.1 L154.5 369.9 L154.0 370.6 L153.5 371.4 L153.1 372.1 L152.6 372.9 L152.2 373.6 L151.8 374.4 L151.3 375.1 L150.9 375.9 L150.5 376.6 L150.1 377.4 L149.8 378.1 L149.5 378.9 L149.2 379.6 L149.0 380.4 L148.7 381.1 L148.5 381.9 L148.4 382.6 L148.4 382.6 L148.3 381.9 L148.1 381.1 L147.8 380.4 L147.6 379.6 L147.3 378.9 L147.0 378.1 L146.7 377.4 L146.3 376.6 L145.9 375.9 L145.5 375.1 L145.0 374.4 L144.6 373.6 L144.2 372.9 L143.7 372.1 L143.3 371.4 L142.8 370.6 L142.3 369.9 L141.8 369.1 L141.3 368.4 L140.7 367.6 L140.2 366.9 L139.7 366.1 L139.1 365.4 L138.6 364.6 L138.1 363.9 L137.6 363.1 L137.1 362.4 L136.6 361.6 L136.1 360.9 L135.6 360.1 L135.1 359.4 L134.6 358.6 L134.2 357.9 L133.7 357.1 L133.3 356.4 L132.8 355.6 L132.4 354.9 L132.0 354.1 L131.6 353.4 L131.1 352.6 L130.7 351.9 L130.4 351.1 L130.0 350.4 L129.7 349.6 L129.4 348.9 L129.1 348.1 L128.9 347.4 L128.6 346.6 L128.5 345.9 L128.4 345.1 L128.4 344.4 L128.4 343.6 L128.4 342.9 L128.5 342.1 L128.5 341.4 L128.5 340.6 L128.6 339.9 L128.7 339.1 L128.9 338.4 L129.1 337.6 L129.3 336.9 L129.5 336.1 L129.7 335.4 L129.9 334.6 L130.1 333.9 L130.4 333.1 L130.6 332.4 L130.9 331.6 L131.2 330.9 L131.5 330.1 L131.8 329.4 L132.1 328.6 L132.4 327.9 L132.7 327.1 L133.1 326.4 L133.5 325.6 L133.9 324.9 L134.3 324.1 L134.8 323.4 L135.2 322.6 L135.7 321.9 L136.2 321.1 L136.8 320.4 L137.3 319.6 L137.9 318.9 L138.5 318.1 L139.2 317.4 L139.8 316.6 L140.4 315.9 L140.9 315.1 L141.4 314.4 L141.8 313.6 L142.2 312.9 L142.6 312.1 L142.9 311.4 L143.2 310.6 L143.4 309.9 L143.6 309.1 L143.8 308.4 L144.0 307.6 L144.1 306.9 L144.3 306.1 L144.4 305.4 L144.4 304.6 L144.5 303.9 L144.6 303.1 L144.6 302.4 L144.7 301.6 L144.7 300.9 L144.8 300.1 L144.9 299.4 L145.0 298.6 L145.1 297.9 L145.2 297.1 L145.4 296.4 L145.5 295.6 L145.6 294.9 L145.8 294.1 L145.9 293.4 L146.0 292.6 L146.2 291.9 L146.3 291.1 L146.4 290.4 L146.6 289.6 L146.7 288.9 L146.9 288.1 L147.0 287.4 L147.2 286.6 L147.3 285.9 L147.5 285.1 L147.6 284.4 L147.6 283.6 L147.7 282.9 L147.8 282.1 L147.9 281.4 L147.9 280.6 L148.0 279.9 L148.0 279.1 L148.1 278.4 L148.1 277.6Z" fill="#2f74a7" stroke="#3b3b3b" stroke-width="0.75" stroke-linejoin="round"/>
<line x1="148.4" y1="300.0" x2="148.4" y2="367.4" stroke="#3d3d3d" stroke-width="1.35"/>
<line x1="148.4" y1="326.3" x2="148.4" y2="351.6" stroke="#3d3d3d" stroke-width="4.8"/>
<line x1="146.3" y1="340.7" x2="150.5" y2="340.7" stroke="#fff" stroke-width="1.3"/>
<path d="M228.9 246.4 L228.9 247.2 L228.9 247.9 L228.9 248.7 L229.0 249.4 L229.0 250.2 L229.0 250.9 L229.0 251.7 L229.1 252.4 L229.1 253.2 L229.1 253.9 L229.2 254.7 L229.2 255.4 L229.3 256.1 L229.3 256.9 L229.4 257.6 L229.4 258.4 L229.5 259.1 L229.6 259.9 L229.7 260.6 L229.8 261.4 L229.9 262.1 L230.0 262.9 L230.1 263.6 L230.2 264.4 L230.3 265.1 L230.5 265.9 L230.6 266.6 L230.8 267.4 L231.0 268.1 L231.2 268.9 L231.3 269.6 L231.5 270.4 L231.6 271.1 L231.8 271.9 L231.9 272.6 L232.0 273.4 L232.1 274.1 L232.3 274.9 L232.4 275.6 L232.6 276.4 L232.7 277.1 L232.9 277.9 L233.0 278.6 L233.2 279.4 L233.3 280.1 L233.5 280.9 L233.6 281.6 L233.7 282.4 L233.8 283.1 L233.9 283.9 L234.0 284.6 L234.2 285.4 L234.3 286.1 L234.4 286.9 L234.5 287.6 L234.6 288.4 L234.7 289.1 L234.8 289.9 L234.9 290.6 L234.9 291.4 L235.0 292.1 L235.1 292.9 L235.2 293.6 L235.2 294.4 L235.3 295.1 L235.4 295.9 L235.5 296.6 L235.6 297.4 L235.7 298.1 L235.8 298.9 L235.9 299.6 L235.9 300.4 L236.0 301.1 L236.1 301.9 L236.2 302.6 L236.3 303.4 L236.4 304.1 L236.5 304.9 L236.6 305.6 L236.7 306.4 L236.8 307.1 L237.0 307.9 L237.1 308.6 L237.3 309.4 L237.4 310.1 L237.6 310.9 L237.8 311.6 L238.1 312.4 L238.3 313.1 L238.6 313.9 L238.9 314.6 L239.2 315.4 L239.5 316.1 L239.9 316.9 L240.3 317.6 L240.6 318.4 L241.0 319.1 L241.4 319.9 L241.7 320.6 L242.0 321.4 L242.3 322.1 L242.6 322.9 L242.8 323.6 L243.1 324.4 L243.4 325.1 L243.6 325.9 L243.9 326.6 L244.2 327.4 L244.4 328.1 L244.6 328.9 L244.8 329.6 L244.8 330.4 L244.9 331.1 L245.0 331.9 L245.0 332.6 L245.1 333.4 L245.1 334.1 L245.1 334.9 L245.1 335.6 L245.0 336.4 L244.9 337.1 L244.7 337.9 L244.6 338.6 L244.4 339.4 L244.3 340.1 L244.1 340.9 L243.9 341.6 L243.7 342.4 L243.5 343.1 L243.3 343.9 L243.0 344.6 L242.8 345.4 L242.5 346.1 L242.1 346.9 L241.8 347.6 L241.4 348.4 L241.0 349.1 L240.6 349.9 L240.3 350.6 L239.9 351.4 L239.5 352.1 L239.1 352.9 L238.7 353.6 L238.3 354.4 L237.9 355.1 L237.5 355.9 L237.1 356.6 L236.7 357.4 L236.3 358.1 L235.9 358.9 L235.5 359.6 L235.1 360.4 L234.7 361.1 L234.3 361.9 L233.9 362.6 L233.5 363.4 L233.2 364.1 L232.8 364.9 L232.5 365.6 L232.3 366.4 L232.0 367.1 L231.7 367.9 L231.5 368.6 L231.3 369.4 L231.1 370.1 L230.8 370.9 L230.6 371.6 L230.4 372.4 L230.3 373.1 L230.1 373.9 L229.9 374.6 L229.7 375.4 L229.5 376.1 L229.3 376.9 L229.2 377.6 L229.0 378.4 L228.8 379.1 L228.6 379.9 L228.6 380.0 L228.6 380.0 L228.6 379.9 L228.4 379.1 L228.2 378.4 L228.0 377.6 L227.9 376.9 L227.7 376.1 L227.5 375.4 L227.3 374.6 L227.1 373.9 L226.9 373.1 L226.8 372.4 L226.6 371.6 L226.4 370.9 L226.1 370.1 L225.9 369.4 L225.7 368.6 L225.5 367.9 L225.2 367.1 L224.9 366.4 L224.7 365.6 L224.4 364.9 L224.0 364.1 L223.7 363.4 L223.3 362.6 L222.9 361.9 L222.5 361.1 L222.1 360.4 L221.7 359.6 L221.3 358.9 L220.9 358.1 L220.5 357.4 L220.1 356.6 L219.7 355.9 L219.3 355.1 L218.9 354.4 L218.5 353.6 L218.1 352.9 L217.7 352.1 L217.3 351.4 L216.9 350.6 L216.6 349.9 L216.2 349.1 L215.8 348.4 L215.4 347.6 L215.1 346.9 L214.7 346.1 L214.4 345.4 L214.2 344.6 L213.9 343.9 L213.7 343.1 L213.5 342.4 L213.3 341.6 L213.1 340.9 L212.9 340.1 L212.8 339.4 L212.6 338.6 L212.5 337.9 L212.3 337.1 L212.2 336.4 L212.1 335.6 L212.1 334.9 L212.1 334.1 L212.1 333.4 L212.2 332.6 L212.2 331.9 L212.3 331.1 L212.4 330.4 L212.4 329.6 L212.6 328.9 L212.8 328.1 L213.0 327.4 L213.3 326.6 L213.6 325.9 L213.8 325.1 L214.1 324.4 L214.4 323.6 L214.6 322.9 L214.9 322.1 L215.2 321.4 L215.5 320.6 L215.8 319.9 L216.2 319.1 L216.6 318.4 L216.9 317.6 L217.3 316.9 L217.7 316.1 L218.0 315.4 L218.3 314.6 L218.6 313.9 L218.9 313.1 L219.1 312.4 L219.4 311.6 L219.6 310.9 L219.8 310.1 L219.9 309.4 L220.1 308.6 L220.2 307.9 L220.4 307.1 L220.5 306.4 L220.6 305.6 L220.7 304.9 L220.8 304.1 L220.9 303.4 L221.0 302.6 L221.1 301.9 L221.2 301.1 L221.3 300.4 L221.3 299.6 L221.4 298.9 L221.5 298.1 L221.6 297.4 L221.7 296.6 L221.8 295.9 L221.9 295.1 L222.0 294.4 L222.0 293.6 L222.1 292.9 L222.2 292.1 L222.3 291.4 L222.3 290.6 L222.4 289.9 L222.5 289.1 L222.6 288.4 L222.7 287.6 L222.8 286.9 L222.9 286.1 L223.0 285.4 L223.2 284.6 L223.3 283.9 L223.4 283.1 L223.5 282.4 L223.6 281.6 L223.7 280.9 L223.9 280.1 L224.0 279.4 L224.2 278.6 L224.3 277.9 L224.5 277.1 L224.6 276.4 L224.8 275.6 L224.9 274.9 L225.1 274.1 L225.2 273.4 L225.3 272.6 L225.4 271.9 L225.6 271.1 L225.7 270.4 L225.9 269.6 L226.0 268.9 L226.2 268.1 L226.4 267.4 L226.6 266.6 L226.7 265.9 L226.9 265.1 L227.0 264.4 L227.1 263.6 L227.2 262.9 L227.3 262.1 L227.4 261.4 L227.5 260.6 L227.6 259.9 L227.7 259.1 L227.8 258.4 L227.8 257.6 L227.9 256.9 L227.9 256.1 L228.0 255.4 L228.0 254.7 L228.1 253.9 L228.1 253.2 L228.1 252.4 L228.2 251.7 L228.2 250.9 L228.2 250.2 L228.2 249.4 L228.3 248.7 L228.3 247.9 L228.3 247.2 L228.3 246.4Z" fill="#2f74a7" stroke="#3b3b3b" stroke-width="0.75" stroke-linejoin="round"/>
<line x1="228.6" y1="266.0" x2="228.6" y2="359.4" stroke="#3d3d3d" stroke-width="1.35"/>
<line x1="228.6" y1="308.0" x2="228.6" y2="345.6" stroke="#3d3d3d" stroke-width="4.8"/>
<line x1="226.5" y1="329.6" x2="230.7" y2="329.6" stroke="#fff" stroke-width="1.3"/>
<polyline points="68.2,310.2 68.2,232.3 228.7,232.3 228.7,241.0" fill="none" stroke="#707070" stroke-width="0.95"/>
<polyline points="68.2,260.0 148.5,260.0 148.5,269.5" fill="none" stroke="#707070" stroke-width="0.95"/>
<text class="st" x="149.1" y="231.5" text-anchor="middle">***</text>
<text class="st" x="108.9" y="259.4" text-anchor="middle">***</text>
<rect x="28.2" y="218.5" width="240.7" height="177.6" fill="none" stroke="#909090" stroke-width="1.25"/>
<line x1="25.8" y1="380.3" x2="27.8" y2="380.3" stroke="#4a4a4a" stroke-width="0.90"/>
<text class="tk" x="23.6" y="382.7" text-anchor="end">0</text>
<line x1="25.8" y1="356.0" x2="27.8" y2="356.0" stroke="#4a4a4a" stroke-width="0.90"/>
<text class="tk" x="23.6" y="358.4" text-anchor="end">10</text>
<line x1="25.8" y1="331.7" x2="27.8" y2="331.7" stroke="#4a4a4a" stroke-width="0.90"/>
<text class="tk" x="23.6" y="334.1" text-anchor="end">20</text>
<line x1="25.8" y1="307.4" x2="27.8" y2="307.4" stroke="#4a4a4a" stroke-width="0.90"/>
<text class="tk" x="23.6" y="309.8" text-anchor="end">30</text>
<line x1="25.8" y1="283.1" x2="27.8" y2="283.1" stroke="#4a4a4a" stroke-width="0.90"/>
<text class="tk" x="23.6" y="285.5" text-anchor="end">40</text>
<line x1="25.8" y1="258.8" x2="27.8" y2="258.8" stroke="#4a4a4a" stroke-width="0.90"/>
<text class="tk" x="23.6" y="261.1" text-anchor="end">50</text>
<line x1="25.8" y1="234.4" x2="27.8" y2="234.4" stroke="#4a4a4a" stroke-width="0.90"/>
<text class="tk" x="23.6" y="236.8" text-anchor="end">60</text>
<line x1="68.3" y1="396.5" x2="68.3" y2="398.5" stroke="#4a4a4a" stroke-width="0.90"/>
<text class="tk" x="68.3" y="405.7" text-anchor="middle">NVR</text>
<line x1="148.5" y1="396.5" x2="148.5" y2="398.5" stroke="#4a4a4a" stroke-width="0.90"/>
<text class="tk" x="148.5" y="405.7" text-anchor="middle">PFFV</text>
<line x1="228.8" y1="396.5" x2="228.8" y2="398.5" stroke="#4a4a4a" stroke-width="0.90"/>
<text class="tk" x="228.8" y="405.7" text-anchor="middle">FV</text>
<text class="tt" x="148.5" y="214.7" text-anchor="middle">Number of Fixations</text>
<text class="tk" transform="translate(11.4,307.3) rotate(-90)" text-anchor="middle">Number</text>
<text class="lab" x="2.0" y="213.4">(c)</text>
</g>
<g>
<path d="M346.2 311.6 L346.5 312.4 L346.7 313.1 L347.0 313.9 L347.2 314.6 L347.4 315.4 L347.6 316.1 L347.9 316.9 L348.1 317.6 L348.3 318.4 L348.5 319.1 L348.8 319.9 L349.0 320.6 L349.2 321.4 L349.4 322.1 L349.6 322.9 L349.9 323.6 L350.1 324.4 L350.4 325.1 L350.6 325.9 L350.9 326.6 L351.2 327.4 L351.4 328.1 L351.7 328.9 L352.0 329.6 L352.2 330.4 L352.5 331.1 L352.7 331.9 L353.0 332.6 L353.2 333.4 L353.5 334.1 L353.7 334.9 L354.0 335.6 L354.4 336.4 L354.8 337.1 L355.4 337.9 L356.0 338.6 L356.6 339.4 L357.3 340.1 L358.0 340.9 L358.9 341.6 L359.8 342.4 L360.8 343.1 L361.8 343.9 L362.9 344.6 L364.1 345.4 L365.3 346.1 L366.6 346.9 L367.9 347.6 L369.1 348.4 L370.3 349.1 L371.5 349.9 L372.6 350.6 L373.7 351.4 L375.0 352.1 L376.0 352.9 L376.5 353.6 L376.0 354.4 L374.9 355.1 L373.5 355.9 L371.8 356.6 L369.3 357.4 L366.6 358.1 L364.1 358.9 L362.1 359.6 L360.1 360.4 L358.3 361.1 L356.7 361.9 L355.3 362.6 L353.9 363.4 L352.8 364.1 L351.9 364.9 L351.4 365.6 L351.0 366.4 L350.7 367.1 L350.4 367.9 L350.0 368.6 L349.7 369.4 L349.4 370.1 L349.1 370.9 L348.9 371.6 L348.7 372.4 L348.6 373.1 L348.4 373.9 L348.3 374.6 L348.2 375.4 L348.1 376.1 L348.0 376.9 L347.9 377.6 L347.8 378.4 L347.7 379.1 L347.6 379.9 L347.5 380.6 L347.4 381.4 L347.3 382.1 L347.2 382.9 L347.1 383.6 L347.0 384.4 L346.9 385.1 L346.8 385.9 L346.7 386.6 L346.6 387.4 L346.4 388.1 L346.2 388.9 L346.2 389.0 L346.2 389.0 L346.2 388.9 L346.0 388.1 L345.8 387.4 L345.7 386.6 L345.6 385.9 L345.5 385.1 L345.4 384.4 L345.3 383.6 L345.2 382.9 L345.1 382.1 L345.0 381.4 L344.9 380.6 L344.8 379.9 L344.7 379.1 L344.6 378.4 L344.5 377.6 L344.4 376.9 L344.3 376.1 L344.2 375.4 L344.1 374.6 L344.0 373.9 L343.8 373.1 L343.7 372.4 L343.5 371.6 L343.3 370.9 L343.0 370.1 L342.7 369.4 L342.4 368.6 L342.0 367.9 L341.7 367.1 L341.4 366.4 L341.0 365.6 L340.5 364.9 L339.6 364.1 L338.5 363.4 L337.1 362.6 L335.7 361.9 L334.1 361.1 L332.3 360.4 L330.3 359.6 L328.3 358.9 L325.8 358.1 L323.1 357.4 L320.6 356.6 L318.9 355.9 L317.5 355.1 L316.4 354.4 L315.9 353.6 L316.4 352.9 L317.4 352.1 L318.7 351.4 L319.8 350.6 L320.9 349.9 L322.1 349.1 L323.3 348.4 L324.5 347.6 L325.8 346.9 L327.1 346.1 L328.3 345.4 L329.5 344.6 L330.6 343.9 L331.6 343.1 L332.6 342.4 L333.5 341.6 L334.4 340.9 L335.1 340.1 L335.8 339.4 L336.4 338.6 L337.0 337.9 L337.6 337.1 L338.0 336.4 L338.4 335.6 L338.7 334.9 L338.9 334.1 L339.2 333.4 L339.4 332.6 L339.7 331.9 L339.9 331.1 L340.2 330.4 L340.4 329.6 L340.7 328.9 L341.0 328.1 L341.2 327.4 L341.5 326.6 L341.8 325.9 L342.0 325.1 L342.3 324.4 L342.5 323.6 L342.8 322.9 L343.0 322.1 L343.2 321.4 L343.4 320.6 L343.6 319.9 L343.9 319.1 L344.1 318.4 L344.3 317.6 L344.5 316.9 L344.8 316.1 L345.0 315.4 L345.2 314.6 L345.4 313.9 L345.7 313.1 L345.9 312.4 L346.2 311.6Z" fill="#2f74a7" stroke="#3b3b3b" stroke-width="0.75" stroke-linejoin="round"/>
<line x1="346.2" y1="329.6" x2="346.2" y2="374.0" stroke="#3d3d3d" stroke-width="1.35"/>
<line x1="346.2" y1="342.6" x2="346.2" y2="359.4" stroke="#3d3d3d" stroke-width="4.8"/>
<line x1="344.1" y1="353.0" x2="348.3" y2="353.0" stroke="#fff" stroke-width="1.3"/>
<path d="M426.4 291.6 L426.6 292.4 L426.9 293.1 L427.1 293.9 L427.3 294.6 L427.4 295.4 L427.6 296.1 L427.8 296.9 L427.9 297.6 L428.1 298.4 L428.2 299.1 L428.4 299.9 L428.5 300.6 L428.7 301.4 L428.8 302.1 L429.0 302.9 L429.1 303.6 L429.3 304.4 L429.3 305.1 L429.4 305.9 L429.5 306.6 L429.6 307.4 L429.7 308.1 L429.9 308.9 L430.1 309.6 L430.3 310.4 L430.5 311.1 L430.7 311.9 L431.0 312.6 L431.3 313.4 L431.6 314.1 L432.0 314.9 L432.4 315.6 L432.8 316.4 L433.4 317.1 L434.0 317.9 L434.6 318.6 L435.4 319.4 L436.1 320.1 L436.9 320.9 L437.7 321.6 L438.6 322.4 L439.6 323.1 L440.6 323.9 L441.7 324.6 L442.9 325.4 L444.2 326.1 L445.6 326.9 L447.0 327.6 L448.5 328.4 L450.1 329.1 L451.7 329.9 L453.3 330.6 L454.6 331.4 L456.1 332.1 L457.4 332.9 L458.3 333.6 L458.3 334.4 L457.8 335.1 L456.8 335.9 L455.7 336.6 L454.3 337.4 L452.3 338.1 L449.8 338.9 L447.3 339.6 L445.1 340.4 L442.9 341.1 L440.7 341.9 L438.7 342.6 L437.0 343.4 L435.4 344.1 L433.9 344.9 L432.7 345.6 L431.8 346.4 L431.1 347.1 L430.5 347.9 L429.9 348.6 L429.5 349.4 L429.1 350.1 L428.8 350.9 L428.8 351.6 L428.7 352.4 L428.7 353.1 L428.7 353.9 L428.7 354.6 L428.9 355.4 L429.0 356.1 L429.2 356.9 L429.3 357.6 L429.3 358.4 L429.3 359.1 L429.2 359.9 L429.1 360.6 L429.1 361.4 L429.0 362.1 L428.9 362.9 L428.7 363.6 L428.6 364.4 L428.4 365.1 L428.2 365.9 L428.1 366.6 L427.9 367.4 L427.8 368.1 L427.7 368.9 L427.5 369.6 L427.4 370.4 L427.2 371.1 L427.0 371.9 L426.7 372.6 L426.4 373.4 L426.4 373.4 L426.4 373.4 L426.4 373.4 L426.1 372.6 L425.8 371.9 L425.6 371.1 L425.4 370.4 L425.3 369.6 L425.1 368.9 L425.0 368.1 L424.9 367.4 L424.7 366.6 L424.6 365.9 L424.4 365.1 L424.2 364.4 L424.1 363.6 L423.9 362.9 L423.8 362.1 L423.7 361.4 L423.7 360.6 L423.6 359.9 L423.5 359.1 L423.5 358.4 L423.5 357.6 L423.6 356.9 L423.8 356.1 L423.9 355.4 L424.1 354.6 L424.1 353.9 L424.1 353.1 L424.1 352.4 L424.0 351.6 L424.0 350.9 L423.7 350.1 L423.3 349.4 L422.9 348.6 L422.3 347.9 L421.7 347.1 L421.0 346.4 L420.1 345.6 L418.9 344.9 L417.4 344.1 L415.8 343.4 L414.1 342.6 L412.1 341.9 L409.9 341.1 L407.7 340.4 L405.5 339.6 L403.0 338.9 L400.5 338.1 L398.5 337.4 L397.1 336.6 L396.0 335.9 L395.0 335.1 L394.5 334.4 L394.5 333.6 L395.4 332.9 L396.7 332.1 L398.2 331.4 L399.5 330.6 L401.1 329.9 L402.7 329.1 L404.3 328.4 L405.8 327.6 L407.2 326.9 L408.6 326.1 L409.9 325.4 L411.1 324.6 L412.2 323.9 L413.2 323.1 L414.2 322.4 L415.1 321.6 L415.9 320.9 L416.7 320.1 L417.4 319.4 L418.2 318.6 L418.8 317.9 L419.4 317.1 L420.0 316.4 L420.4 315.6 L420.8 314.9 L421.2 314.1 L421.5 313.4 L421.8 312.6 L422.1 311.9 L422.3 311.1 L422.5 310.4 L422.7 309.6 L422.9 308.9 L423.1 308.1 L423.2 307.4 L423.3 306.6 L423.4 305.9 L423.5 305.1 L423.5 304.4 L423.7 303.6 L423.8 302.9 L424.0 302.1 L424.1 301.4 L424.3 300.6 L424.4 299.9 L424.6 299.1 L424.7 298.4 L424.9 297.6 L425.0 296.9 L425.2 296.1 L425.4 295.4 L425.5 294.6 L425.7 293.9 L425.9 293.1 L426.2 292.4 L426.4 291.6Z" fill="#2f74a7" stroke="#3b3b3b" stroke-width="0.75" stroke-linejoin="round"/>
<line x1="426.4" y1="314.4" x2="426.4" y2="343.6" stroke="#3d3d3d" stroke-width="1.35"/>
<line x1="426.4" y1="325.0" x2="426.4" y2="339.6" stroke="#3d3d3d" stroke-width="4.8"/>
<line x1="424.3" y1="333.6" x2="428.5" y2="333.6" stroke="#fff" stroke-width="1.3"/>
<path d="M506.7 248.0 L506.8 248.8 L506.8 249.5 L506.9 250.2 L506.9 251.0 L507.0 251.8 L507.1 252.5 L507.1 253.2 L507.2 254.0 L507.3 254.8 L507.3 255.5 L507.4 256.2 L507.5 257.0 L507.5 257.8 L507.6 258.5 L507.7 259.2 L507.8 260.0 L507.9 260.8 L508.0 261.5 L508.1 262.2 L508.2 263.0 L508.4 263.8 L508.5 264.5 L508.7 265.2 L508.8 266.0 L509.0 266.8 L509.2 267.5 L509.4 268.2 L509.6 269.0 L509.8 269.8 L510.1 270.5 L510.3 271.2 L510.6 272.0 L510.9 272.8 L511.2 273.5 L511.6 274.2 L511.9 275.0 L512.3 275.8 L512.7 276.5 L513.1 277.2 L513.6 278.0 L514.1 278.8 L514.5 279.5 L514.9 280.2 L515.4 281.0 L515.8 281.8 L516.2 282.5 L516.7 283.2 L517.1 284.0 L517.5 284.8 L517.9 285.5 L518.2 286.2 L518.6 287.0 L519.0 287.8 L519.4 288.5 L519.7 289.2 L520.0 290.0 L520.3 290.8 L520.6 291.5 L520.9 292.2 L521.1 293.0 L521.4 293.8 L521.6 294.5 L521.8 295.2 L521.9 296.0 L522.1 296.8 L522.2 297.5 L522.3 298.2 L522.3 299.0 L522.3 299.8 L522.2 300.5 L522.0 301.2 L521.9 302.0 L521.7 302.8 L521.5 303.5 L521.2 304.2 L521.0 305.0 L520.7 305.8 L520.4 306.5 L520.1 307.2 L519.7 308.0 L519.3 308.8 L518.9 309.5 L518.6 310.2 L518.2 311.0 L517.8 311.8 L517.4 312.5 L517.0 313.2 L516.6 314.0 L516.2 314.8 L515.8 315.5 L515.4 316.2 L515.0 317.0 L514.6 317.8 L514.2 318.5 L513.9 319.2 L513.5 320.0 L513.2 320.8 L512.8 321.5 L512.5 322.2 L512.2 323.0 L511.9 323.8 L511.7 324.5 L511.4 325.2 L511.2 326.0 L511.0 326.8 L510.7 327.5 L510.5 328.2 L510.3 329.0 L510.2 329.8 L510.0 330.5 L509.8 331.2 L509.7 332.0 L509.5 332.8 L509.4 333.5 L509.2 334.2 L509.1 335.0 L509.0 335.8 L508.9 336.5 L508.8 337.2 L508.7 338.0 L508.6 338.8 L508.6 339.5 L508.5 340.2 L508.4 341.0 L508.3 341.8 L508.2 342.5 L508.2 343.2 L508.1 344.0 L508.0 344.8 L508.0 345.5 L507.9 346.2 L507.9 347.0 L507.8 347.8 L507.8 348.5 L507.7 349.2 L507.7 350.0 L507.7 350.8 L507.6 351.5 L507.6 352.2 L507.5 353.0 L507.5 353.8 L507.5 354.5 L507.4 355.2 L507.4 356.0 L507.4 356.8 L507.3 357.5 L507.3 358.2 L507.2 359.0 L507.2 359.8 L507.2 360.5 L507.1 361.2 L507.1 362.0 L507.1 362.8 L507.0 363.5 L507.0 364.2 L507.0 365.0 L506.9 365.8 L506.9 366.5 L506.8 367.2 L506.8 368.0 L506.8 368.8 L506.7 369.5 L506.7 370.2 L506.6 371.0 L506.5 371.8 L506.5 372.5 L506.4 373.2 L506.4 373.6 L506.4 373.6 L506.4 373.2 L506.3 372.5 L506.3 371.8 L506.2 371.0 L506.1 370.2 L506.1 369.5 L506.0 368.8 L506.0 368.0 L506.0 367.2 L505.9 366.5 L505.9 365.8 L505.8 365.0 L505.8 364.2 L505.8 363.5 L505.7 362.8 L505.7 362.0 L505.7 361.2 L505.6 360.5 L505.6 359.8 L505.6 359.0 L505.5 358.2 L505.5 357.5 L505.4 356.8 L505.4 356.0 L505.4 355.2 L505.3 354.5 L505.3 353.8 L505.3 353.0 L505.2 352.2 L505.2 351.5 L505.1 350.8 L505.1 350.0 L505.1 349.2 L505.0 348.5 L505.0 347.8 L504.9 347.0 L504.9 346.2 L504.8 345.5 L504.8 344.8 L504.7 344.0 L504.6 343.2 L504.6 342.5 L504.5 341.8 L504.4 341.0 L504.3 340.2 L504.2 339.5 L504.2 338.8 L504.1 338.0 L504.0 337.2 L503.9 336.5 L503.8 335.8 L503.7 335.0 L503.6 334.2 L503.4 333.5 L503.3 332.8 L503.1 332.0 L503.0 331.2 L502.8 330.5 L502.6 329.8 L502.5 329.0 L502.3 328.2 L502.1 327.5 L501.8 326.8 L501.6 326.0 L501.4 325.2 L501.1 324.5 L500.9 323.8 L500.6 323.0 L500.3 322.2 L500.0 321.5 L499.6 320.8 L499.3 320.0 L498.9 319.2 L498.6 318.5 L498.2 317.8 L497.8 317.0 L497.4 316.2 L497.0 315.5 L496.6 314.8 L496.2 314.0 L495.8 313.2 L495.4 312.5 L495.0 311.8 L494.6 311.0 L494.2 310.2 L493.9 309.5 L493.5 308.8 L493.1 308.0 L492.7 307.2 L492.4 306.5 L492.1 305.8 L491.8 305.0 L491.6 304.2 L491.3 303.5 L491.1 302.8 L490.9 302.0 L490.8 301.2 L490.6 300.5 L490.5 299.8 L490.5 299.0 L490.5 298.2 L490.6 297.5 L490.7 296.8 L490.9 296.0 L491.0 295.2 L491.2 294.5 L491.4 293.8 L491.7 293.0 L491.9 292.2 L492.2 291.5 L492.5 290.8 L492.8 290.0 L493.1 289.2 L493.4 288.5 L493.8 287.8 L494.2 287.0 L494.6 286.2 L494.9 285.5 L495.3 284.8 L495.7 284.0 L496.1 283.2 L496.6 282.5 L497.0 281.8 L497.4 281.0 L497.9 280.2 L498.3 279.5 L498.7 278.8 L499.2 278.0 L499.7 277.2 L500.1 276.5 L500.5 275.8 L500.9 275.0 L501.2 274.2 L501.6 273.5 L501.9 272.8 L502.2 272.0 L502.5 271.2 L502.7 270.5 L503.0 269.8 L503.2 269.0 L503.4 268.2 L503.6 267.5 L503.8 266.8 L504.0 266.0 L504.1 265.2 L504.3 264.5 L504.4 263.8 L504.6 263.0 L504.7 262.2 L504.8 261.5 L504.9 260.8 L505.0 260.0 L505.1 259.2 L505.2 258.5 L505.3 257.8 L505.3 257.0 L505.4 256.2 L505.5 255.5 L505.5 254.8 L505.6 254.0 L505.7 253.2 L505.7 252.5 L505.8 251.8 L505.9 251.0 L505.9 250.2 L506.0 249.5 L506.0 248.8 L506.1 248.0Z" fill="#2f74a7" stroke="#3b3b3b" stroke-width="0.75" stroke-linejoin="round"/>
<line x1="506.4" y1="264.0" x2="506.4" y2="347.0" stroke="#3d3d3d" stroke-width="1.35"/>
<line x1="506.4" y1="288.3" x2="506.4" y2="314.6" stroke="#3d3d3d" stroke-width="4.8"/>
<line x1="504.3" y1="300.5" x2="508.5" y2="300.5" stroke="#fff" stroke-width="1.3"/>
<polyline points="346.2,308.0 346.2,229.4 506.5,229.4 506.5,244.0" fill="none" stroke="#707070" stroke-width="0.95"/>
<polyline points="426.2,288.4 426.2,238.4 506.5,238.4" fill="none" stroke="#707070" stroke-width="0.95"/>
<polyline points="346.2,278.4 426.2,278.4" fill="none" stroke="#707070" stroke-width="0.95"/>
<text class="st" x="428.5" y="230.1" text-anchor="middle">***</text>
<text class="st" x="468.6" y="238.8" text-anchor="middle">***</text>
<text class="st" x="385.8" y="278.3" text-anchor="middle">***</text>
<rect x="306.1" y="218.5" width="240.6" height="177.6" fill="none" stroke="#909090" stroke-width="1.25"/>
<line x1="303.7" y1="372.5" x2="305.7" y2="372.5" stroke="#4a4a4a" stroke-width="0.90"/>
<text class="tk" x="301.5" y="374.9" text-anchor="end">200</text>
<line x1="303.7" y1="348.2" x2="305.7" y2="348.2" stroke="#4a4a4a" stroke-width="0.90"/>
<text class="tk" x="301.5" y="350.6" text-anchor="end">400</text>
<line x1="303.7" y1="323.9" x2="305.7" y2="323.9" stroke="#4a4a4a" stroke-width="0.90"/>
<text class="tk" x="301.5" y="326.3" text-anchor="end">600</text>
<line x1="303.7" y1="299.6" x2="305.7" y2="299.6" stroke="#4a4a4a" stroke-width="0.90"/>
<text class="tk" x="301.5" y="302.0" text-anchor="end">800</text>
<line x1="303.7" y1="275.3" x2="305.7" y2="275.3" stroke="#4a4a4a" stroke-width="0.90"/>
<text class="tk" x="301.5" y="277.7" text-anchor="end">1000</text>
<line x1="303.7" y1="251.0" x2="305.7" y2="251.0" stroke="#4a4a4a" stroke-width="0.90"/>
<text class="tk" x="301.5" y="253.4" text-anchor="end">1200</text>
<line x1="303.7" y1="226.8" x2="305.7" y2="226.8" stroke="#4a4a4a" stroke-width="0.90"/>
<text class="tk" x="301.5" y="229.2" text-anchor="end">1400</text>
<line x1="346.2" y1="396.5" x2="346.2" y2="398.5" stroke="#4a4a4a" stroke-width="0.90"/>
<text class="tk" x="346.2" y="405.7" text-anchor="middle">NVR</text>
<line x1="426.4" y1="396.5" x2="426.4" y2="398.5" stroke="#4a4a4a" stroke-width="0.90"/>
<text class="tk" x="426.4" y="405.7" text-anchor="middle">PFFV</text>
<line x1="506.6" y1="396.5" x2="506.6" y2="398.5" stroke="#4a4a4a" stroke-width="0.90"/>
<text class="tk" x="506.6" y="405.7" text-anchor="middle">FV</text>
<text class="tt" x="426.4" y="214.7" text-anchor="middle">Fixation Duration</text>
<text class="tk" transform="translate(281.8,307.3) rotate(-90)" text-anchor="middle">Time (ms)</text>
<text class="lab" x="282.0" y="213.4">(d)</text>
</g>
</svg></body></html>
